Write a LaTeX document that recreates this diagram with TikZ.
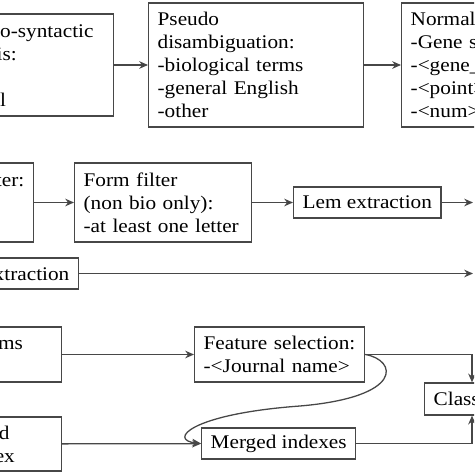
\documentclass[tikz,border=0pt]{standalone}
\usepackage{fontspec}
\setmainfont[FakeStretch=1.1]{Liberation Serif}
\usetikzlibrary{arrows.meta,positioning}

\begin{document}
\begin{tikzpicture}[x=0.03cm,y=-0.03cm,>={Stealth[length=7.5pt,width=6.5pt]},
  every node/.style={font=\fontsize{16.5pt}{19.6pt}\selectfont},
  block/.style={draw=black!72,line width=1.1pt,align=left,inner xsep=7.7pt,inner ysep=3pt},
  flow/.style={->,draw=black!72,line width=1.1pt}]
\useasboundingbox (0,0) rectangle (474,474);
\clip (0,0) rectangle (474,474);

% first row
\node[block,anchor=east,text width=4.86cm,minimum height=3.06cm] (ana) at (114,65) {Morpho-syntactic\\analysis:\\-POS\\-lexical};
\node[block,anchor=west,text width=5.91cm,minimum height=3.72cm] (dis) at (148,65) {Pseudo\\disambiguation:\\-biological terms\\-general English\\-other};
\node[block,anchor=west,text width=5.46cm,minimum height=3.72cm] (norm) at (401,65) {Normalization:\\-Gene symbols\\-<gene\_name>\\-<point>\\-<num>};

% second row
\node[block,anchor=east,minimum height=2.37cm] (stop) at (34,202.5) {Stop word filter:\\-stop words\\-short tokens.};
\node[block,anchor=west,text width=4.77cm,minimum height=2.37cm] (form) at (74,202.5) {Form filter\\(non bio only):\\-at least one letter};
\node[block,anchor=west,minimum height=0.93cm] (lem) at (293,202.5) {Lem extraction};
\coordinate (lemout) at (473,202.5);

% third row
\node[block,anchor=east,minimum height=0.93cm] (word) at (79,273.5) {Word extraction};
\coordinate (wordout) at (473,273.5);

% indexes and classification
\node[block,anchor=east,text width=6.03cm,minimum height=1.65cm] (terms) at (62,354.5) {Lems and bio terms\\index};
\node[block,anchor=west,text width=4.56cm,minimum height=1.65cm] (feat) at (194,354.5) {Feature selection:\\-<Journal name>};
\node[block,anchor=east,text width=4.47cm,minimum height=1.62cm] (idx) at (62,444) {Lemmatized\\lemma index};
\node[block,anchor=west,minimum height=0.93cm] (merge) at (201,443.5) {Merged indexes};
\node[block,anchor=west,minimum height=0.96cm] (cls) at (424,399) {Classification};
\coordinate (cx) at (472,0);

\path[flow] (ana) edge (dis)
            (dis) edge (norm)
            (stop) edge (form)
            (form) edge (lem)
            (lem) edge (lemout)
            (word) edge (wordout)
            (terms) edge (feat)
            (idx) edge (merge);
\draw[flow] (feat.east) -| (cx |- cls.north);
\draw[flow] (merge.east) -| (cx |- cls.south);
\draw[flow] (feat.east) .. controls (397,360) and (405,397) .. (300,406)
  .. controls (190,414) and (168,440) .. (merge.west);
\end{tikzpicture}
\end{document}
